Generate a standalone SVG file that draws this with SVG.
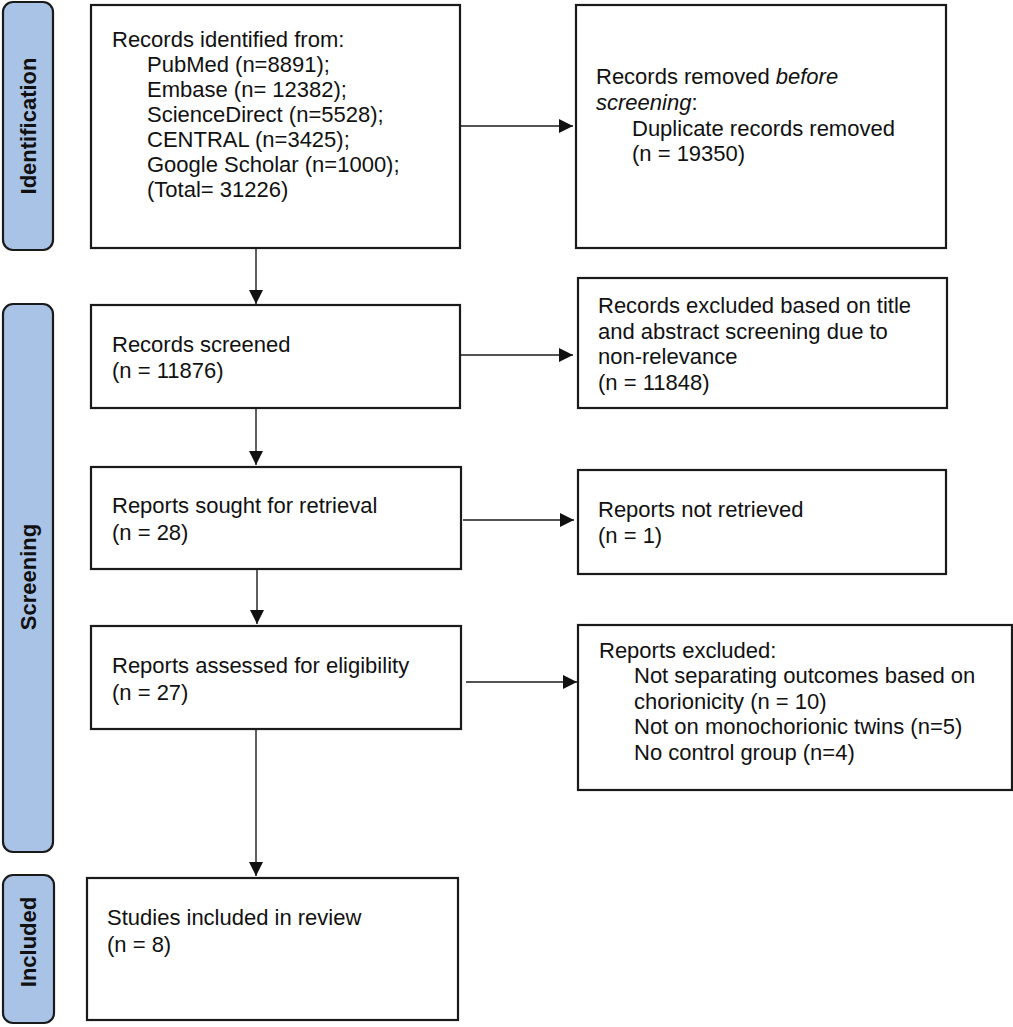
<svg xmlns="http://www.w3.org/2000/svg" width="1013" height="1027" viewBox="0 0 1013 1027">
<defs>
<style>
.bar{fill:#a9c3e6;stroke:#1a1a1a;stroke-width:2.2}
.box{fill:#fff;stroke:#1a1a1a;stroke-width:2.2}
.lbl{font-family:"Liberation Sans",Arial,sans-serif;font-size:22px;font-weight:bold;fill:#111;text-anchor:middle}
.t{font-family:"Liberation Sans",Arial,sans-serif;font-size:22px;fill:#111}
.con{stroke:#1a1a1a;stroke-width:1.4;fill:none;marker-end:url(#ah)}
</style>
<marker id="ah" markerUnits="userSpaceOnUse" markerWidth="14" markerHeight="14" viewBox="0 0 14 14" refX="14" refY="7" orient="auto">
<path d="M0,0 L14,7 L0,14 Z" fill="#111"/>
</marker>
</defs>
<rect width="1013" height="1027" fill="#fff"/>

<g id="phase-identification">
<rect class="bar" x="3" y="2" width="50" height="248" rx="10"/>
<text class="lbl" transform="translate(36,126) rotate(-90)">Identification</text>
</g>
<g id="phase-screening">
<rect class="bar" x="3" y="304" width="50" height="548" rx="10"/>
<text class="lbl" transform="translate(36,577) rotate(-90)">Screening</text>
</g>
<g id="phase-included">
<rect class="bar" x="3" y="875" width="51" height="148" rx="10"/>
<text class="lbl" transform="translate(36,942) rotate(-90)">Included</text>
</g>

<g id="connectors">
<line class="con" x1="460" y1="126" x2="573" y2="126"/>
<line class="con" x1="256" y1="248" x2="256" y2="304"/>
<line class="con" x1="460" y1="355" x2="573" y2="355"/>
<line class="con" x1="256" y1="408" x2="256" y2="465"/>
<line class="con" x1="463" y1="520" x2="574" y2="520"/>
<line class="con" x1="257" y1="569" x2="257" y2="624"/>
<line class="con" x1="466" y1="682" x2="577" y2="682"/>
<line class="con" x1="256" y1="729" x2="256" y2="876"/>
</g>

<g id="node-identified">
<rect class="box" x="91" y="5" width="369" height="243"/>
<text class="t" x="112" y="47">Records identified from:</text>
<text class="t" x="147" y="72">PubMed (n=8891);</text>
<text class="t" x="147" y="97">Embase (n= 12382);</text>
<text class="t" x="147" y="122">ScienceDirect (n=5528);</text>
<text class="t" x="147" y="147">CENTRAL (n=3425);</text>
<text class="t" x="147" y="172">Google Scholar (n=1000);</text>
<text class="t" x="147" y="197">(Total= 31226)</text>
</g>

<g id="node-removed">
<rect class="box" x="576" y="5" width="370" height="243"/>
<text class="t" x="596" y="84">Records removed <tspan font-style="italic">before</tspan></text>
<text class="t" x="596" y="110"><tspan font-style="italic">screening</tspan>:</text>
<text class="t" x="632" y="136">Duplicate records removed</text>
<text class="t" x="632" y="161">(n = 19350)</text>
</g>

<g id="node-screened">
<rect class="box" x="91" y="305" width="369" height="103"/>
<text class="t" x="112" y="352">Records screened</text>
<text class="t" x="112" y="378">(n = 11876)</text>
</g>

<g id="node-excluded-title">
<rect class="box" x="578" y="278" width="369" height="130"/>
<text class="t" x="598" y="313">Records excluded based on title</text>
<text class="t" x="598" y="339">and abstract screening due to</text>
<text class="t" x="598" y="364">non-relevance</text>
<text class="t" x="598" y="390">(n = 11848)</text>
</g>

<g id="node-sought">
<rect class="box" x="91" y="467" width="370" height="102"/>
<text class="t" x="112" y="513">Reports sought for retrieval</text>
<text class="t" x="112" y="540">(n = 28)</text>
</g>

<g id="node-not-retrieved">
<rect class="box" x="578" y="470" width="368" height="104"/>
<text class="t" x="598" y="517">Reports not retrieved</text>
<text class="t" x="598" y="543">(n = 1)</text>
</g>

<g id="node-assessed">
<rect class="box" x="91" y="626" width="370" height="103"/>
<text class="t" x="112" y="673">Reports assessed for eligibility</text>
<text class="t" x="112" y="700">(n = 27)</text>
</g>

<g id="node-reports-excluded">
<rect class="box" x="578" y="625" width="434" height="165"/>
<text class="t" x="599" y="658">Reports excluded:</text>
<text class="t" x="634" y="683">Not separating outcomes based on</text>
<text class="t" x="634" y="709">chorionicity (n = 10)</text>
<text class="t" x="634" y="734">Not on monochorionic twins (n=5)</text>
<text class="t" x="634" y="760">No control group (n=4)</text>
</g>

<g id="node-included">
<rect class="box" x="87" y="878" width="371" height="142"/>
<text class="t" x="107" y="925">Studies included in review</text>
<text class="t" x="107" y="952">(n = 8)</text>
</g>
</svg>
